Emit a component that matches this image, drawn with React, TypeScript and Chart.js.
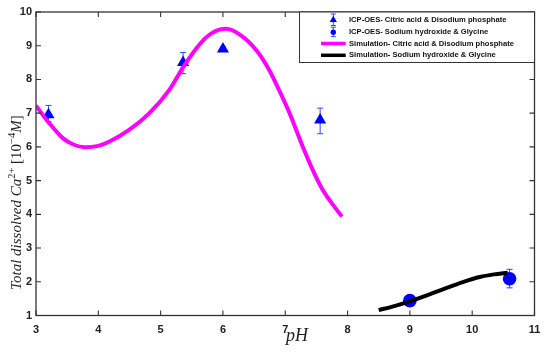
import React, { useEffect, useRef } from "react";
import { Chart, registerables } from "chart.js";

Chart.register(...registerables);

// ICP-OES measurements: Citric acid & Disodium phosphate (triangles)
const citricX = [3.2, 5.36, 6.0, 7.56];
const citricY = [6.95, 8.5, 8.9, 6.8];
const citricErrLow = [6.75, 8.17, 8.84, 6.39];
const citricErrHigh = [7.23, 8.8, 8.96, 7.15];

// ICP-OES measurements: Sodium hydroxide & Glycine (circles)
const glycineX = [9.0, 10.6];
const glycineY = [1.44, 2.09];
const glycineErrLow = [1.37, 1.82];
const glycineErrHigh = [1.51, 2.37];

// Simulation curves
const simCitricX = [3.0, 3.21, 3.43, 3.6, 3.78, 4.0, 4.18, 4.5, 4.82, 5.14, 5.36, 5.62, 5.81, 6.05, 6.27, 6.53, 6.74, 6.96, 7.07, 7.28, 7.44, 7.6, 7.91];
const simCitricY = [7.22, 6.71, 6.26, 6.07, 5.99, 6.03, 6.16, 6.51, 7.0, 7.69, 8.36, 9.03, 9.36, 9.5, 9.33, 8.88, 8.29, 7.45, 7.0, 6.01, 5.32, 4.73, 3.93];
const simGlycineX = [8.5, 8.75, 9.0, 9.25, 9.58, 9.85, 10.12, 10.35, 10.57];
const simGlycineY = [1.16, 1.28, 1.42, 1.58, 1.81, 1.99, 2.14, 2.22, 2.27];

// Axes
const xTicks = [3, 4, 5, 6, 7, 8, 9, 10, 11];
const yTicks = [1, 2, 3, 4, 5, 6, 7, 8, 9, 10];

const legendLabels = [
  "ICP-OES- Citric acid & Disodium phosphate",
  "ICP-OES- Sodium hydroxide & Glycine",
  "Simulation- Citric acid & Disodium phosphate",
  "Simulation- Sodium hydroxide & Glycine",
];

const BLUE = "#0000ff";
const ERR = "#2a48ff";
const MAGENTA = "#ff00ff";
const AXIS = "#333333";

const zip = (xs: number[], ys: number[]) => xs.map((x, i) => ({ x, y: ys[i] }));

const errorBarPlugin = {
  id: "errorBars",
  beforeDatasetsDraw(chart: any) {
    const { ctx, scales } = chart;
    const sx = scales.x, sy = scales.y;
    const groups = [
      { xs: citricX, lo: citricErrLow, hi: citricErrHigh },
      { xs: glycineX, lo: glycineErrLow, hi: glycineErrHigh },
    ];
    ctx.save();
    ctx.strokeStyle = ERR;
    ctx.lineWidth = 1;
    groups.forEach((g) => {
      g.xs.forEach((xv, i) => {
        const px = sx.getPixelForValue(xv);
        const p1 = sy.getPixelForValue(g.lo[i]);
        const p2 = sy.getPixelForValue(g.hi[i]);
        ctx.beginPath();
        ctx.moveTo(px, p1);
        ctx.lineTo(px, p2);
        ctx.moveTo(px - 3, p1);
        ctx.lineTo(px + 3, p1);
        ctx.moveTo(px - 3, p2);
        ctx.lineTo(px + 3, p2);
        ctx.stroke();
      });
    });
    ctx.restore();
  },
};

const framePlugin = {
  id: "frame",
  afterDraw(chart: any) {
    const { ctx, chartArea: a, scales } = chart;
    ctx.save();
    ctx.strokeStyle = AXIS;
    ctx.lineWidth = 1.3;
    ctx.strokeRect(a.left, a.top, a.right - a.left, a.bottom - a.top);
    ctx.lineWidth = 1.1;
    ctx.beginPath();
    const tl = 5;
    xTicks.forEach((v) => {
      const px = scales.x.getPixelForValue(v);
      ctx.moveTo(px, a.bottom);
      ctx.lineTo(px, a.bottom - tl);
      ctx.moveTo(px, a.top);
      ctx.lineTo(px, a.top + tl);
    });
    yTicks.forEach((v) => {
      const py = scales.y.getPixelForValue(v);
      ctx.moveTo(a.left, py);
      ctx.lineTo(a.left + tl, py);
      ctx.moveTo(a.right, py);
      ctx.lineTo(a.right - tl, py);
    });
    ctx.stroke();
    ctx.restore();
  },
};

const legendPlugin = {
  id: "customLegend",
  afterDraw(chart: any) {
    const { ctx, chartArea: a } = chart;
    const left = 299.5;
    const top = a.top;
    const right = a.right;
    const bottom = 62.5;
    ctx.save();
    ctx.fillStyle = "#ffffff";
    ctx.fillRect(left, top, right - left, bottom - top);
    ctx.strokeStyle = AXIS;
    ctx.lineWidth = 1;
    ctx.strokeRect(left, top, right - left, bottom - top);

    const rows = [20, 32.2, 43.5, 55.3];
    const symX = 333.3;
    // row 1: triangle with error bar
    ctx.strokeStyle = ERR;
    ctx.lineWidth = 1;
    ctx.beginPath();
    ctx.moveTo(symX, rows[0] - 6); ctx.lineTo(symX, rows[0] + 5.5);
    ctx.moveTo(symX - 2.5, rows[0] - 6); ctx.lineTo(symX + 2.5, rows[0] - 6);
    ctx.moveTo(symX - 2.5, rows[0] + 5.5); ctx.lineTo(symX + 2.5, rows[0] + 5.5);
    ctx.stroke();
    ctx.fillStyle = BLUE;
    const r = 4.2;
    ctx.beginPath();
    ctx.moveTo(symX, rows[0] - r);
    ctx.lineTo(symX + r * 0.866, rows[0] + r * 0.5);
    ctx.lineTo(symX - r * 0.866, rows[0] + r * 0.5);
    ctx.closePath();
    ctx.fill();
    // row 2: circle with error bar
    ctx.beginPath();
    ctx.moveTo(symX, rows[1] - 5); ctx.lineTo(symX, rows[1] + 4.5);
    ctx.moveTo(symX - 2.5, rows[1] - 5); ctx.lineTo(symX + 2.5, rows[1] - 5);
    ctx.moveTo(symX - 2.5, rows[1] + 4.5); ctx.lineTo(symX + 2.5, rows[1] + 4.5);
    ctx.stroke();
    ctx.beginPath();
    ctx.arc(symX, rows[1], 2.7, 0, Math.PI * 2);
    ctx.fill();
    // rows 3, 4: lines
    ctx.lineWidth = 3.5;
    ctx.strokeStyle = MAGENTA;
    ctx.beginPath();
    ctx.moveTo(321, rows[2]); ctx.lineTo(345.7, rows[2]);
    ctx.stroke();
    ctx.strokeStyle = "#000000";
    ctx.beginPath();
    ctx.moveTo(321, rows[3]); ctx.lineTo(345.7, rows[3]);
    ctx.stroke();

    ctx.fillStyle = "#111111";
    ctx.font = "bold 7.6px 'Liberation Sans', Arial, sans-serif";
    ctx.textBaseline = "middle";
    ctx.textAlign = "left";
    legendLabels.forEach((t, i) => ctx.fillText(t, 349, rows[i]));
    ctx.restore();
  },
};

const titlesPlugin = {
  id: "titles",
  afterDraw(chart: any) {
    const { ctx } = chart;
    ctx.save();
    ctx.fillStyle = "#222222";
    // y title with superscripts, drawn upward starting near the x axis
    const size = 15;
    const sup = 10.5;
    const pieces = [
      { t: "Total dissolved Ca", f: `italic ${size}px 'Liberation Serif', serif`, dy: 0 },
      { t: "2+", f: `${sup}px 'Liberation Serif', serif`, dy: -6.5 },
      { t: " [10", f: `${size}px 'Liberation Serif', serif`, dy: 0 },
      { t: "\u22124", f: `${sup}px 'Liberation Serif', serif`, dy: -6.5 },
      { t: "M", f: `italic ${size}px 'Liberation Serif', serif`, dy: 0 },
      { t: "]", f: `${size}px 'Liberation Serif', serif`, dy: 0 },
    ];
    ctx.translate(21, 290);
    ctx.rotate(-Math.PI / 2);
    ctx.textBaseline = "alphabetic";
    ctx.textAlign = "left";
    let x = 0;
    pieces.forEach((p) => {
      ctx.font = p.f;
      ctx.fillText(p.t, x, p.dy);
      x += ctx.measureText(p.t).width;
    });
    ctx.setTransform(1, 0, 0, 1, 0, 0);
    // x title
    ctx.font = `italic 18px 'Liberation Serif', serif`;
    ctx.textAlign = "center";
    ctx.textBaseline = "alphabetic";
    ctx.fillText("pH", 297, 341);
    ctx.restore();
  },
};

export default function App() {
  const ref = useRef<HTMLCanvasElement | null>(null);
  useEffect(() => {
    if (!ref.current) return;
    const chart = new Chart(ref.current, {
      type: "scatter",
      data: {
        datasets: [
          {
            label: legendLabels[2],
            data: zip(simCitricX, simCitricY),
            showLine: true,
            borderColor: MAGENTA,
            borderWidth: 4,
            pointRadius: 0,
            cubicInterpolationMode: "monotone",
            fill: false,
            order: 0,
          },
          {
            label: legendLabels[3],
            data: zip(simGlycineX, simGlycineY),
            showLine: true,
            borderColor: "#000000",
            borderWidth: 4,
            pointRadius: 0,
            cubicInterpolationMode: "monotone",
            fill: false,
            order: 0,
          },
          {
            label: legendLabels[0],
            data: zip(citricX, citricY),
            pointStyle: "triangle",
            pointRadius: 7,
            backgroundColor: BLUE,
            borderColor: BLUE,
            borderWidth: 0,
            order: 1,
          },
          {
            label: legendLabels[1],
            data: zip(glycineX, glycineY),
            pointStyle: "circle",
            pointRadius: 6.8,
            backgroundColor: BLUE,
            borderColor: BLUE,
            borderWidth: 0,
            order: 1,
          },
        ],
      },
      options: {
        animation: false,
        responsive: false,
        devicePixelRatio: 1,
        layout: { padding: { left: 0, top: 12, right: 15.5, bottom: 0 } },
        plugins: {
          legend: { display: false },
          tooltip: { enabled: false },
        },
        scales: {
          x: {
            type: "linear",
            min: 3,
            max: 11,
            afterFit: (s: any) => {
              s.height = 38.5;
            },
            afterBuildTicks: (s: any) => {
              s.ticks = xTicks.map((v) => ({ value: v }));
            },
            ticks: {
              color: "#222222",
              font: { family: "'Liberation Sans', Arial, sans-serif", weight: "bold", size: 11 },
              padding: 8,
              maxRotation: 0,
              autoSkip: false,
            },
            grid: { display: false, drawTicks: false },
            border: { display: false },
          },
          y: {
            type: "linear",
            min: 1,
            max: 10,
            afterFit: (s: any) => {
              s.width = 36;
            },
            afterBuildTicks: (s: any) => {
              s.ticks = yTicks.map((v) => ({ value: v }));
            },
            ticks: {
              color: "#222222",
              font: { family: "'Liberation Sans', Arial, sans-serif", weight: "bold", size: 11 },
              padding: 4,
              autoSkip: false,
            },
            grid: { display: false, drawTicks: false },
            border: { display: false },
          },
        },
      } as any,
      plugins: [errorBarPlugin, framePlugin, legendPlugin, titlesPlugin],
    });
    return () => chart.destroy();
  }, []);
  return (
    <div style={{ position: "fixed", left: 0, top: 0, width: 550, height: 354, background: "#ffffff" }}>
      <canvas ref={ref} width={550} height={354} style={{ display: "block", width: 550, height: 354 }} />
    </div>
  );
}
